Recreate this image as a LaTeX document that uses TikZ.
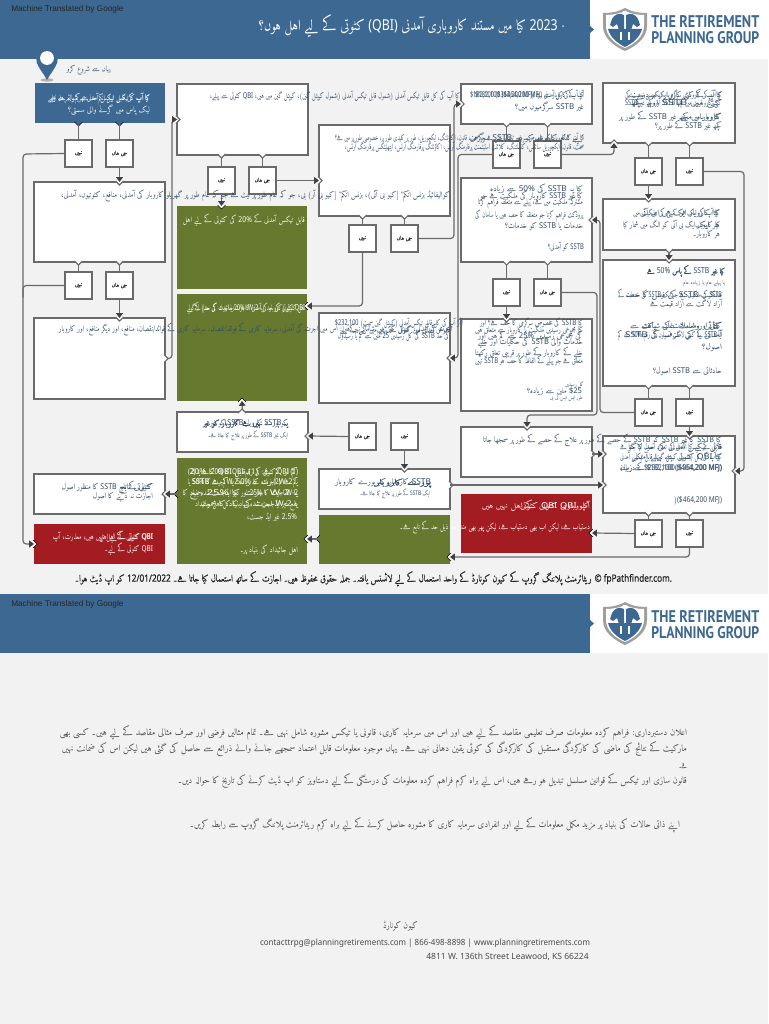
\documentclass[tikz,border=0pt]{standalone}
\usepackage{fontspec}
\usepackage{graphicx}
\usetikzlibrary{arrows.meta}
\TeXXeTstate=1
\setmainfont{Liberation Sans}
\newfontfamily\urdu[Script=Arabic]{Amiri}
\newfontfamily\urdub[Script=Arabic,FakeBold=0.6]{Amiri}
\newfontfamily\contactfont{Noto Sans}
\newfontfamily\latb[FakeBold=0.8]{Noto Sans}
\newfontfamily\logofont{PT Sans}
\definecolor{pagebg}{HTML}{F2F2F2}
\definecolor{hblue}{HTML}{3D6891}
\definecolor{olive}{HTML}{66792F}
\definecolor{bred}{HTML}{A31C22}
\definecolor{lgray}{HTML}{6A6A6A}
\definecolor{adark}{HTML}{404040}
\definecolor{navy}{HTML}{2F4A66}
\definecolor{dtext}{HTML}{4A4A4A}
\tikzset{
  wbox/.style={draw=lgray,line width=.9pt,fill=white,inner sep=0pt,outer sep=0pt},
  cbox/.style={fill=#1,inner sep=0pt,outer sep=0pt},
  smbox/.style={draw=lgray,line width=.9pt,fill=white,inner sep=0pt,outer sep=0pt,minimum width=20.25pt,minimum height=20.25pt,font=\urdub\fontsize{4.4pt}{5pt}\selectfont,text=black!80},
  conn/.style={draw=lgray,line width=.9pt,rounded corners=2.5pt},
  arr/.style={conn,-{Triangle[length=3.6pt,width=5pt,color=adark]}},
  ur/.style={anchor=base east,inner sep=0pt,outer sep=0pt,font=\urdu},
  ub/.style={ur,text=navy},
  uw/.style={ur,text=white},
  ubb/.style={ur,text=navy,font=\urdub},
  ud/.style={ur,text=dtext},
  uk/.style={ur,text=black!85,font=\urdub},
  nw/.style={fill=white,draw=lgray,line width=.8pt},
  nc/.style={fill=white},
  nb/.style={fill=hblue},
  ng/.style={fill=olive}
}
\newcommand{\bx}[6]{\node[#6,minimum width={(#4-#2)*0.75pt},minimum height={(#5-#3)*0.75pt}] (#1) at ({(#2+#4)/2},{(#3+#5)/2}) {};}
\newcommand{\sm}[4]{\node[smbox] (#1) at ({#2+13.5},{#3+13.5}) {#4};}
% notch: x y dx dy style
\newcommand{\nn}[5]{\filldraw[#5] ({#1+4*#4-#3},{#2+4*#3-#4}) -- ({#1+3*#3},{#2+3*#4}) -- ({#1-4*#4-#3},{#2-4*#3-#4});}
\newcommand{\ltr}[1]{\beginL{\contactfont #1}\endL}
\newcommand{\ltrb}[1]{\beginL{\latb #1}\endL}
\newcount\urc
\newcommand{\ur}[6]{\global\advance\urc by 1
  \pgfmathsetlengthmacro\urw{(#2-#1)*0.75pt}%
  \pgfmathsetlengthmacro\urs{#4*1.25pt}%
  \node[#5] (u\the\urc) at (#2,{#3+1.7}) {\resizebox{\urw}{\height}{\fontsize{\urs}{\urs}\selectfont #6}};}
\newcommand{\hdr}[2]{%
  \fill[hblue] (0,#1) rectangle (590,{#1+59});
  \fill[white] (590,#1) rectangle (768,{#1+59});
  \fill[hblue] (590,{#1+26}) -- (594,{#1+29.5}) -- (590,{#1+33}) -- cycle;
  \node[anchor=base west,inner sep=0pt,font=\fontsize{6.2pt}{7pt}\selectfont,text=black!85] (mt#2) at (11,{#1+12}) {Machine Translated by Google};
  \fill[black!38] (603,{#1+13}) .. controls (613,{#1+13}) and (620,{#1+11}) .. (625,{#1+8}) .. controls (630,{#1+11}) and (637,{#1+13}) .. (647,{#1+13}) -- (647,{#1+26}) .. controls (647,{#1+38}) and (636,{#1+46}) .. (625,{#1+51}) .. controls (614,{#1+46}) and (603,{#1+38}) .. (603,{#1+26}) -- cycle;
  \fill[white] (606,{#1+15}) .. controls (614,{#1+15}) and (621,{#1+13}) .. (625,{#1+11}) .. controls (629,{#1+13}) and (636,{#1+15}) .. (644,{#1+15}) -- (644,{#1+26}) .. controls (644,{#1+36}) and (635,{#1+44}) .. (625,{#1+48}) .. controls (615,{#1+44}) and (606,{#1+36}) .. (606,{#1+26}) -- cycle;
  \fill[hblue] (608,{#1+29}) -- (642,{#1+29}) .. controls (640,{#1+37}) and (633,{#1+43}) .. (625,{#1+47}) .. controls (617,{#1+43}) and (610,{#1+37}) .. (608,{#1+29}) -- cycle;
  \fill[hblue] (624,{#1+15}) .. controls (619,{#1+12}) and (614,{#1+15}) .. (612,{#1+19}) -- (610,{#1+25}) -- (613,{#1+27}) -- (617,{#1+24}) -- (619,{#1+30}) -- (624,{#1+30}) -- cycle;
  \fill[hblue] (626,{#1+15}) .. controls (631,{#1+12}) and (636,{#1+15}) .. (638,{#1+19}) -- (640,{#1+25}) -- (637,{#1+27}) -- (633,{#1+24}) -- (631,{#1+30}) -- (626,{#1+30}) -- cycle;
  \fill[white] (620,{#1+32}) rectangle (622,{#1+40});
  \fill[white] (628,{#1+32}) rectangle (630,{#1+40});
  \fill[white] (623,{#1+11}) rectangle (627,{#1+12});
  \node[anchor=base west,inner sep=0pt,font=\logofont\bfseries,text=hblue] (la#2) at (651,{#1+28}) {\resizebox{81pt}{9pt}{THE RETIREMENT}};
  \node[anchor=base west,inner sep=0pt,font=\logofont\bfseries,text=hblue] (lb#2) at (651,{#1+44}) {\resizebox{81pt}{9pt}{PLANNING GROUP}};
}
\begin{document}
\begin{tikzpicture}[x=0.75pt,y=-0.75pt]
\useasboundingbox (0,0) rectangle (768,1024);
\fill[pagebg] (0,0) rectangle (768,1024);
\hdr{0}{A}
\hdr{594}{B}
\fill[black!30] (47,80) ellipse [x radius=5pt,y radius=1.2pt];
\fill[hblue] (47,58) circle [radius=8.2pt];
\fill[hblue] (36.5,62) .. controls (39,69) and (44,74) .. (47,80) .. controls (50,74) and (55,69) .. (57.5,62) -- cycle;
\fill[white] (47,58) circle [radius=5.2pt];

% boxes
\bx{bA}{35}{83}{165}{123}{cbox=hblue}
\bx{bB}{34}{182}{165}{262}{wbox}
\bx{bC}{34}{318}{165}{399}{wbox}
\bx{bS}{34}{474}{165}{514}{wbox}
\bx{rA}{34}{524}{165}{564}{cbox=bred}
\bx{bQ}{177}{84}{308}{155}{wbox}
\bx{gA}{177}{206}{307}{289}{cbox=olive}
\bx{gB}{177}{294}{307}{401}{cbox=olive}
\bx{bT}{177}{412}{308}{452}{wbox}
\bx{gC}{177}{458}{307}{564}{cbox=olive}
\bx{bM}{319}{125}{450}{216}{wbox}
\bx{bN}{319}{313}{450}{403}{wbox}
\bx{bE}{319}{469}{450}{509}{wbox}
\bx{gE}{319}{515}{450}{564}{cbox=olive}
\bx{bF}{461}{84}{592}{124}{wbox}
\bx{bG}{461}{178}{592}{262}{wbox}
\bx{bH}{461}{319}{592}{411}{wbox}
\bx{bI}{461}{427}{592}{477}{wbox}
\bx{rB}{461}{494}{592}{553}{cbox=bred}
\bx{bJ}{603}{83}{735}{143}{wbox}
\bx{bK}{603}{199}{735}{250}{wbox}
\bx{bL}{603}{260}{735}{386}{wbox}
\bx{bO}{603}{436}{735}{513}{wbox}

% small answer boxes
\sm{nA}{65}{140}{\beginR نہیں\endR}\sm{yA}{106}{140}{\beginR جی ہاں\endR}
\sm{nB}{65}{272}{\beginR نہیں\endR}\sm{yB}{106}{272}{\beginR جی ہاں\endR}
\sm{nQ}{208}{167}{\beginR نہیں\endR}\sm{yQ}{249}{167}{\beginR جی ہاں\endR}
\sm{nM}{349}{225}{\beginR نہیں\endR}\sm{yM}{391}{225}{\beginR جی ہاں\endR}
\sm{yN}{349}{423}{\beginR جی ہاں\endR}\sm{nN}{391}{423}{\beginR نہیں\endR}
\sm{yF}{493}{141}{\beginR جی ہاں\endR}\sm{nF}{534}{141}{\beginR نہیں\endR}
\sm{nG}{493}{279}{\beginR نہیں\endR}\sm{yG}{534}{279}{\beginR جی ہاں\endR}
\sm{yJ}{635}{158}{\beginR جی ہاں\endR}\sm{nJ}{676}{158}{\beginR نہیں\endR}
\sm{yL}{635}{399}{\beginR جی ہاں\endR}\sm{nL}{676}{399}{\beginR نہیں\endR}
\sm{yO}{635}{520}{\beginR جی ہاں\endR}\sm{nO}{676}{520}{\beginR نہیں\endR}

% notches
\nn{78.5}{123}{0}{1}{nb}\nn{119.5}{123}{0}{1}{nb}
\nn{119.5}{182}{0}{1}{nw}
\nn{78.5}{262}{0}{1}{nw}\nn{119.5}{262}{0}{1}{nw}
\nn{119.5}{318}{0}{1}{nw}
\nn{165}{358.5}{1}{0}{nw}
\nn{177}{119.5}{1}{0}{nw}
\nn{221.5}{155}{0}{1}{nw}\nn{262.5}{155}{0}{1}{nw}
\nn{221.5}{206}{0}{1}{nc}
\nn{319}{180.5}{1}{0}{nw}
\nn{362.5}{216}{0}{1}{nw}\nn{404.5}{216}{0}{1}{nw}
\nn{307}{306}{-1}{0}{nc}
\nn{461}{104}{1}{0}{nw}
\nn{506.5}{124}{0}{1}{nw}\nn{547.5}{124}{0}{1}{nw}
\nn{614}{143}{0}{-1}{nw}
\nn{450}{358}{-1}{0}{nw}
\nn{592}{220}{-1}{0}{nw}
\nn{506.5}{262}{0}{1}{nw}\nn{547.5}{262}{0}{1}{nw}
\nn{506.5}{319}{0}{1}{nw}
\nn{527}{427}{0}{1}{nw}
\nn{592}{454}{1}{0}{nw}
\nn{603}{454}{1}{0}{nw}
\nn{450}{485}{1}{0}{nw}
\nn{603}{485}{1}{0}{nw}
\nn{648.5}{143}{0}{1}{nw}\nn{689.5}{143}{0}{1}{nw}
\nn{648.5}{199}{0}{1}{nw}
\nn{669}{250}{0}{1}{nw}\nn{669}{260}{0}{1}{nw}
\nn{648.5}{386}{0}{1}{nw}\nn{689.5}{386}{0}{1}{nw}
\nn{689.5}{436}{0}{1}{nw}
\nn{735}{471}{-1}{0}{nw}
\nn{648.5}{513}{0}{1}{nw}\nn{689.5}{513}{0}{1}{nw}
\nn{592}{533}{-1}{0}{nc}
\nn{450}{557}{-1}{0}{nc}
\nn{319}{539}{-1}{0}{ng}
\nn{307}{539}{-1}{0}{nc}
\nn{177}{494}{-1}{0}{ng}
\nn{165}{494}{-1}{0}{nw}
\nn{308}{436}{-1}{0}{nw}
\nn{404.5}{469}{0}{1}{nw}
\nn{242}{412}{0}{-1}{nw}
\nn{242}{401}{0}{-1}{nc}
\nn{34}{544}{1}{0}{nc}

% connectors
\coordinate (c1) at (23,154);
\coordinate (c2) at (172,358.5);
\coordinate (c3) at (454,238.5);
\coordinate (c4) at (362.5,306);
\coordinate (c5) at (614,154.5);
\coordinate (c6) at (458,154.5);
\coordinate (c7) at (600,412.5);
\coordinate (c8) at (597,292.5);
\coordinate (c9) at (527,415);
\coordinate (c10) at (744,171.5);
\coordinate (c11) at (689.5,557);
\coordinate (e1) at (450,358);
\coordinate (e2) at (592,454);
\coordinate (e3) at (450,485);
\coordinate (e4) at (735,471);
\coordinate (e5) at (23,544);
\coordinate (e6) at (592,533);
\coordinate (e7) at (319,539);
\coordinate (e8) at (177,494);
\coordinate (e10) at (461,104);
\coordinate (e11) at (307,306);
\coordinate (e12) at (308,436);
\coordinate (e13) at (242,401);
\coordinate (e14) at (614,143);

\draw[conn] (nA.north |- bA.south) -- (nA.north);
\draw[conn] (yA.north |- bA.south) -- (yA.north);
\draw[arr] (yA.south) -- (yA.south |- bB.north);
\draw[conn,shorten <=2pt] (nB.north |- bB.south) -- (nB.north);
\draw[conn,shorten <=2pt] (yB.north |- bB.south) -- (yB.north);
\draw[arr] (yB.south) -- (yB.south |- bC.north);
\draw[arr] (nA.west) -- (c1) -- (c1 |- e5) -- (rA.west |- e5);
\draw[conn] (nB.west) -- (c1 |- nB.west) -- ++(0,12);
\draw[arr,shorten <=2pt] (bC.east) -- (c2) -- (c2 |- bQ.west) -- (bQ.west);
\draw[conn,shorten <=2pt] (nQ.north |- bQ.south) -- (nQ.north);
\draw[conn,shorten <=2pt] (yQ.north |- bQ.south) -- (yQ.north);
\draw[arr] (nQ.south) -- (nQ.south |- gA.north);
\draw[arr] (yQ.east) -- (bM.west |- yQ.east);
\draw[conn,shorten <=2pt] (nM.north |- bM.south) -- (nM.north);
\draw[conn,shorten <=2pt] (yM.north |- bM.south) -- (yM.north);
\draw[arr] (yM.east) -- (c3) -- (c3 |- e10) -- (e10);
\draw[arr] (nM.south) -- (c4) -- (e11);
\draw[conn,shorten <=2pt] (yF.north |- bF.south) -- (yF.north);
\draw[conn,shorten <=2pt] (nF.north |- bF.south) -- (nF.north);
\draw[arr] (nF.east) -- (c5) -- (e14);
\draw[arr] (yF.west) -- (c6) -- (c6 |- e1) -- (e1);
\draw[arr] (yL.west) -- (c7) -- (c7 |- bG.east) -- (bG.east);
\draw[conn,shorten <=2pt] (nG.north |- bG.south) -- (nG.north);
\draw[conn,shorten <=2pt] (yG.north |- bG.south) -- (yG.north);
\draw[arr] (nG.south) -- (nG.south |- bH.north);
\draw[arr] (yG.east) -- (c8) -- (c8 |- c9) -- (c9) -- (c9 |- bI.north);
\draw[arr] (e2) -- (bO.west |- e2);
\draw[arr] (e3) -- (bO.west |- e3);
\draw[conn,shorten <=2pt] (yJ.north |- bJ.south) -- (yJ.north);
\draw[conn,shorten <=2pt] (nJ.north |- bJ.south) -- (nJ.north);
\draw[arr] (yJ.south) -- (yJ.south |- bK.north);
\draw[arr] (nJ.east) -- (c10) -- (c10 |- e4) -- (e4);
\draw[arr,shorten <=2pt] (bK.south) -- (bL.north);
\draw[conn,shorten <=2pt] (yL.north |- bL.south) -- (yL.north);
\draw[conn,shorten <=2pt] (nL.north |- bL.south) -- (nL.north);
\draw[arr] (nL.south) -- (nL.south |- bO.north);
\draw[conn,shorten <=2pt] (yO.north |- bO.south) -- (yO.north);
\draw[conn,shorten <=2pt] (nO.north |- bO.south) -- (nO.north);
\draw[arr] (yO.west) -- (e6);
\draw[arr] (nO.south) -- (c11) -- (gE.east |- c11);
\draw[arr] (e7) -- (gC.east |- e7);
\draw[arr] (e8) -- (bS.east |- e8);
\draw[arr] (yN.west) -- (e12);
\draw[arr] (nN.south) -- (nN.south |- bE.north);
\draw[arr,shorten <=2pt] (bT.north) -- (e13);

% texts: header
\ur{259}{565}{29}{9}{uw}{\beginR · \ltr{2023} کیا میں مستند کاروباری آمدنی  \ltr{(QBI)} کٹوتی کے لیے اہل ہوں؟\endR}
\ur{67}{111}{70}{4.5}{ub}{\beginR یہاں سے شروع کرو\endR}

% start box
\ur{48}{150}{99}{4.8}{uw}{\beginR کیا آپ کی قابل ٹیکس آمدنی تھریشولڈ سے نیچے\endR}
\ur{50}{150}{99}{4.8}{uw}{\beginR کیا آپ کا ٹیکس ایبل انکم حد سے کم یا مرحلہ وار\endR}
\ur{68}{150}{111}{4.8}{uw}{\beginR لیک پاس میں گرنے والی سستی؟\endR}

% long spilled lines
\ur{61}{450}{196}{4.8}{ub}{\beginR کوالیفائیڈ بزنس انکم" [کیو بی آئی)، بزنس انکم" [کیو بی آر) بی، جو کہ عام طور پر نیٹ ہے جو کہ عام طور پر گھریلو کاروبار کی آمدنی، منافع، کٹوتیوں، آمدنی،\endR}
\ur{59}{452}{330}{4.8}{ub}{\beginR اجرت کی آمدنی، کیپٹل گین میں شامل نہیں ہیں: اس میں اجرت کی آمدنی، سرمایہ کاری کے فوائد/نقصان، سرمایہ کاری کے فوائد/نقصان، منافع، اور دیگر منافع، اور کاروبار\endR}
\ur{210}{460}{97}{4.8}{ub}{\beginR کیا آپ کی کل قابل ٹیکس آمدنی (بشمول قابل ٹیکس آمدنی (بشمول کیپٹل گین)، کیپٹل گین میں ہیں، \ltr{QBI} کٹوتی سے پہلے،\endR}

% green A
\ur{183}{305}{221}{4.8}{uw}{\beginR قابل ٹیکس آمدنی کے \ltr{20\%} کی کٹوتی کے لیے اہل\endR}

% green B
\ur{187}{305}{309}{4.8}{uw}{\beginR اہل کٹوتی (کاروبار کی آمدنی کا \ltr{20\%} یا اجرت کی حد) کے لیے\endR}
\ur{190}{305}{309}{4.8}{uw}{\beginR \ltr{QBI} کٹوتی کی حد (یا \ltr{W-2} اجرت/جائیداد کی حد) لاگو\endR}

% box T
\ur{203}{288}{424}{5}{ubb}{\beginR یہ \ltr{SSTB} نہیں ہے کاروبار کو غیر\endR}
\ur{210}{288}{424}{5}{ub}{\beginR کو پورے کاروبار \ltr{SSTB} کو غیر\endR}
\ur{208}{288}{436}{3.8}{ub}{\beginR ایک غیر \ltr{SSTB} کے طور پر علاج کیا جاتا ہے۔\endR}

% green C
\ur{188}{298}{472.5}{4.8}{uw}{\beginR \ltr{(1)} \ltr{QBI} کٹوتی کی رقم \ltr{QBI} کا \ltr{20\%} ہے یا \ltr{(2)}\endR}
\ur{190}{298}{472.5}{4.8}{uw}{\beginR کم از کم ہے: \ltr{(1)} قابل \ltr{QBI} کا \ltr{20\%}\endR}
\ur{188}{298}{483}{4.8}{uw}{\beginR کم ہے: \ltr{(2)} زیادہ سے زیادہ \ltr{W-2} اجرت کا \ltr{50\%} یا\endR}
\ur{192}{298}{483}{4.8}{uw}{\beginR یا \ltr{W-2} اجرت کا \ltr{50\%} یا کم ہے \ltr{SSTB}\endR}
\ur{183}{298}{494}{4.8}{uw}{\beginR \ltr{W-2} اجرت کا \ltr{25\%} اور غیر ایڈجسٹ شدہ بنیاد کا\endR}
\ur{190}{298}{494}{4.8}{uw}{\beginR یا \ltr{W-2} اجرت کا \ltr{25\%} جمع\endR}
\ur{195}{298}{505}{4.8}{uw}{\beginR جمع غیر ایڈجسٹ شدہ بنیاد کا کل اہل جائیداد\endR}
\ur{200}{298}{505}{4.8}{uw}{\beginR یا \ltr{W-2} اجرت کی بنیاد کا مجموعہ\endR}
\ur{247}{297}{517.5}{4.8}{uw}{\beginR \ltr{2.5\%} غیر ایڈ جسٹ،\endR}
\ur{240}{298}{551}{4.8}{uw}{\beginR اہل جائیداد کی بنیاد پر۔\endR}

% SSTB principle box
\ur{62}{153}{488}{4.8}{ub}{\beginR کٹوتی کے تابع \ltr{SSTB} کا منظور اصول\endR}
\ur{120}{153}{488}{4.8}{ub}{\beginR کٹوتی تابع\endR}
\ur{93}{153}{497}{4.6}{ub}{\beginR اجازت نہ دینے کا اصول\endR}

% red A
\ur{53}{153}{538}{4.8}{uw}{\beginR \ltr{QBI} کٹوتی کے اہل نہیں ہیں؛ معذرت، آپ\endR}
\ur{100}{153}{538}{4.8}{uw}{\beginR \ltr{QBI} کٹوتی کے لیے اہل\endR}
\ur{105}{153}{550}{4.8}{uw}{\beginR \ltr{QBI} کٹوتی کے لیے۔\endR}

% box M + box F overlap
\ur{335}{584}{139}{4.8}{ub}{\beginR کیا آپ کا کاروبار ایک مخصوص سروس ٹریڈ یا بزنس ہے جو صحت، قانون، اکاؤنٹنگ، ایکچوریل، طور پر کلیدی طور پر، خصوصی طور پر میں ہے؟\endR}
\ur{470}{584}{139}{4.8}{ub}{\beginR اپنے تمام کاروبار کو غیر \ltr{SSTB} سرگرمی\endR}
\ur{345}{584}{148}{4.8}{ub}{\beginR صحت، قانون، ایکچوریل سائنس، کنسلٹنگ، کلائنٹ اسٹیٹمنٹ پرفارمنگ آرٹس، اکاؤنٹنگ پرفارمنگ آرٹس، ایتھلیٹکس پرفارمنگ آرٹس،\endR}

% box F
\ur{470}{584}{96}{4.8}{ub}{\beginR کیا آپ کی کل آمدنی ہے \ltr{\$182,100 (\$364,200 MFJ)}\endR}
\ur{475}{584}{96}{4.8}{ub}{\beginR آپ کے کاروبار سے \ltr{\$182,100 (\$364,200 MFJ)}\endR}
\ur{515}{584}{108}{4.8}{ub}{\beginR غیر \ltr{SSTB} سرگرمیوں میں؟\endR}

% box G
\ur{490}{583}{190}{4.8}{ub}{\beginR کیا یہ \ltr{SSTB} کی \ltr{50\%} سے زیادہ\endR}
\ur{480}{583}{196.5}{4.8}{ub}{\beginR کیا غیر \ltr{SSTB} کاروبار کی ملکیت ہے جو\endR}
\ur{478}{583}{203}{4.8}{ub}{\beginR مشترکہ ملکیت میں ہے، پہلے سے متعلقہ فراہم کرتا\endR}
\ur{475}{583}{216}{4.8}{ub}{\beginR پروڈکٹ فراہم کرنا جو متعلقہ کا حصہ ہیں یا سامان کی\endR}
\ur{505}{583}{227}{4.8}{ub}{\beginR خدمات یا \ltr{SSTB} کو خدمات؟\endR}
\ur{548}{584}{248}{4.8}{ub}{\beginR \ltr{SSTB} کو آمدنی؟\endR}

% box N
\ur{335}{463}{324}{4.8}{ub}{\beginR اگر آپ کی کل قابل ٹیکس آمدنی (کیپٹل گین سمیت) \ltr{\$232,100}\endR}
\ur{340}{450}{331}{4.8}{ub}{\beginR مجموعی آمدنی میں کٹوتی سے پہلے میں کمی کے لیے\endR}
\ur{338}{450}{337}{4.8}{ub}{\beginR کی حد \ltr{SSTB} کی کل رسیدیں \ltr{25} ملین سے کم یا رسیدوں\endR}

% box H
\ur{480}{583}{324}{4.8}{ub}{\beginR کیا \ltr{SSTB} کی مخصوص سرگرمی کا حصہ ہے؟ اور\endR}
\ur{475}{583}{331}{4.8}{ub}{\beginR کیا مجموعی رسیدیں ملکیت یا کاروبار سے متعلق ہیں\endR}
\ur{478}{583}{337}{4.8}{ub}{\beginR کی مجموعی رسیدیں \ltr{25\%} سے کم ہیں اور\endR}
\ur{478}{583}{343}{4.8}{ub}{\beginR خدمات والی \ltr{SSTB} کی حکایات اور خلیے\endR}
\ur{475}{583}{354}{4.8}{ub}{\beginR خلیے کے کاروبار کے طور پر قریبی تعلق رکھتا\endR}
\ur{475}{583}{362}{4.8}{ub}{\beginR متعلق ہے جو پہلے کے الفاظ کا حصہ ہو \ltr{SSTB} نہیں\endR}
\ur{565}{584}{385}{3.6}{ub}{\beginR کل رسیدیں\endR}
\ur{527}{582}{392}{4.6}{ub}{\beginR \ltr{\$25} ملین سے زیادہ؟\endR}
\ur{550}{583}{398}{3}{ub}{\beginR طور ایس ایس ٹی بی\endR}

% box I spill
\ur{483}{722}{441}{4.8}{ub}{\beginR کیا \ltr{SSTB} کا غیر \ltr{SSTB} کو \ltr{SSTB} کے حصے کے طور پر علاج کے حصے کے طور پر سمجھا جاتا\endR}

% box E
\ur{335}{431}{483}{4.8}{ub}{\beginR \ltr{SSTB} کاروبار کو پورے کاروبار\endR}
\ur{375}{431}{483}{4.8}{ubb}{\beginR پورے کاروبار\endR}
\ur{360}{430}{494}{3.8}{ub}{\beginR ایک \ltr{SSTB} کے طور پر علاج کیا جاتا ہے۔\endR}

% red B and long white line
\ur{482}{590}{507}{4.8}{uw}{\beginR آپ \ltr{QBI} کٹوتی کے اہل نہیں ہیں\endR}
\ur{520}{590}{507}{4.8}{uw}{\beginR کاروباری \ltr{QBI} کٹوتی\endR}
\ur{400}{590}{528}{4.8}{uw}{\beginR دستیاب ہے، لیکن اب بھی دستیاب ہے، لیکن پھر بھی مندرجہ ذیل حد کے تابع ہے۔\endR}

% box J
\ur{625}{722}{96}{4.8}{ub}{\beginR کیا آپ کی کاروباری سرگرمی ایک جیسی نوعیت کی\endR}
\ur{628}{722}{96}{4.8}{ub}{\beginR کیا آپ کے کئی کاروبار ایک دوسرے\endR}
\ur{625}{722}{104}{4.8}{ub}{\beginR کئی کاروباروں میں کچھ \ltr{SSTB} اور کچھ غیر \ltr{SSTB}\endR}
\ur{630}{722}{104}{4.8}{ub}{\beginR کئی میں \ltr{SSTB} اور کچھ\endR}
\ur{619}{722}{118}{4.8}{ub}{\beginR کاروبار میں کچھ غیر \ltr{SSTB} کے طور پر\endR}
\ur{680}{722}{118}{4.8}{ub}{\beginR کاروبار میں\endR}
\ur{655}{722}{127}{4.8}{ub}{\beginR کچھ غیر \ltr{SSTB} کے طور پر؟\endR}

% box K
\ur{633}{720}{214}{4.8}{ub}{\beginR کیا آپ کی ایک ہی کمپنی کی ملکیت میں\endR}
\ur{640}{720}{214}{4.8}{ub}{\beginR کیا کاروبار ایک ہی ای آئی\endR}
\ur{623}{720}{226}{4.8}{ub}{\beginR کیا کاروبار ایک بی آئی کو الگ میں شمار کیا\endR}
\ur{695}{720}{226}{4.8}{ub}{\beginR ہر ایک\endR}
\ur{693}{720}{235}{4.8}{ub}{\beginR ہر کاروبار۔\endR}

% box L
\ur{647}{725}{272}{5}{ubb}{\beginR کیا غیر \ltr{SSTB} کے پاس \ltr{50\%} ہے\endR}
\ur{683}{725}{283}{3.2}{ub}{\beginR یا پہلے عام یا زیادہ عام\endR}
\ur{618}{722}{296}{4.8}{ub}{\beginR \ltr{SSTB} کی ملکیت ہے جو ایک \ltr{SSTB} کی خدمات کے\endR}
\ur{625}{722}{296}{4.8}{ub}{\beginR ملکیت \ltr{SSTB} کی فیس کا حصہ\endR}
\ur{650}{722}{305}{4.8}{ub}{\beginR آزاد لاگت سے آزاد قیمت ہے\endR}
\ur{630}{722}{327}{4.8}{ub}{\beginR کمائی اور معاملات کی شرکت سے\endR}
\ur{640}{722}{327}{4.8}{ub}{\beginR کمائی والے غلبہ یافتہ\endR}
\ur{618}{722}{336}{4.8}{ub}{\beginR آیا \ltr{SSTB} کے کسی لاگت اصولوں کی رقم \ltr{10\%} سے کم\endR}
\ur{625}{722}{336}{4.8}{ub}{\beginR آمدنی یا کی طرف کی \ltr{SSTB}\endR}
\ur{702}{722}{348}{4.8}{ub}{\beginR اصول؟\endR}
\ur{653}{722}{372}{4.8}{ub}{\beginR حادثاتی سے \ltr{SSTB} اصول؟\endR}

% box O
\ur{620}{722}{447.5}{4.8}{ub}{\beginR فلائی کے لیے کیا آمدنی کی تعداد اصول کیا جاتا ہے\endR}
\ur{628}{722}{447.5}{4.8}{ub}{\beginR قابل ٹیکس آمدنی کی حد لاگو\endR}
\ur{620}{722}{458}{4.8}{ub}{\beginR کیا آپ کی کل (بشمول کیپٹل گین) قابل ٹیکس آمدنی\endR}
\ur{632}{722}{458}{4.8}{ub}{\beginR کیا \ltr{QBI} کٹوتی سے پہلے آمدنی\endR}
\ur{620}{722}{469}{4.8}{ub}{\beginR \ltr{\$182,100 (\$364,200 MFJ)} کے درمیان\endR}
\ur{620}{722}{469}{4.8}{ub}{\beginR \ltr{\$232,100 (\$464,200 MFJ)} سے زیادہ\endR}
\ur{674}{722}{501}{4.8}{ub}{\beginR \ltr{(\$464,200 MFJ)}(\endR}

% footer
\ur{75}{672}{580}{6}{uk}{\beginR \ltrb{© fpPathfinder.com.} ریٹائرمنٹ پلاننگ گروپ کے کیون کونارڈ کے واحد استعمال کے لیے لائسنس یافتہ۔ جملہ حقوق محفوظ ہیں۔ اجازت کے ساتھ استعمال کیا جاتا ہے۔ \ltrb{12/01/2022} کو اپ ڈیٹ ہوا۔\endR}

% bottom
\ur{60}{687}{734}{5.6}{ud}{\beginR اعلان دستبرداری: فراہم کردہ معلومات صرف تعلیمی مقاصد کے لیے ہیں اور اس میں سرمایہ کاری، قانونی یا ٹیکس مشورہ شامل نہیں ہے۔ تمام مثالیں فرضی اور صرف مثالی مقاصد کے لیے ہیں۔ کسی بھی\endR}
\ur{62}{687}{750}{5.6}{ud}{\beginR مارکیٹ کے نتائج کی ماضی کی کارکردگی مستقبل کی کارکردگی کی کوئی یقین دہانی نہیں ہے۔ یہاں موجود معلومات قابل اعتماد سمجھے جانے والے ذرائع سے حاصل کی گئی ہیں لیکن اس کی ضمانت نہیں\endR}
\ur{679}{687}{767}{5.6}{ud}{\beginR ہے۔\endR}
\ur{178}{687}{782}{5.6}{ud}{\beginR قانون سازی اور ٹیکس کے قوانین مسلسل تبدیل ہو رہے ہیں، اس لیے براہ کرم فراہم کردہ معلومات کی درستگی کے لیے دستاویز کو اپ ڈیٹ کرنے کی تاریخ کا حوالہ دیں۔\endR}
\ur{190}{680}{826}{5.6}{ud}{\beginR اپنے ذاتی حالات کی بنیاد پر مزید مکمل معلومات کے لیے اور انفرادی سرمایہ کاری کا مشورہ حاصل کرنے کے لیے براہ کرم ریٹائرمنٹ پلاننگ گروپ سے رابطہ کریں۔\endR}
\ur{383}{418}{927}{5.6}{ud}{\beginR کیون کونارڈ\endR}

\node[anchor=base,inner sep=0pt,text=dtext,font=\contactfont\fontsize{6.4pt}{7pt}\selectfont] (ct1) at (425,945) {\resizebox{247.5pt}{\height}{contacttrpg@planningretirements.com | 866-498-8898 | www.planningretirements.com}};
\node[anchor=base east,inner sep=0pt,text=dtext,font=\contactfont\fontsize{6.4pt}{7pt}\selectfont] (ct2) at (589,959) {4811 W. 136th Street Leawood, KS 66224};

\end{tikzpicture}
\end{document}
